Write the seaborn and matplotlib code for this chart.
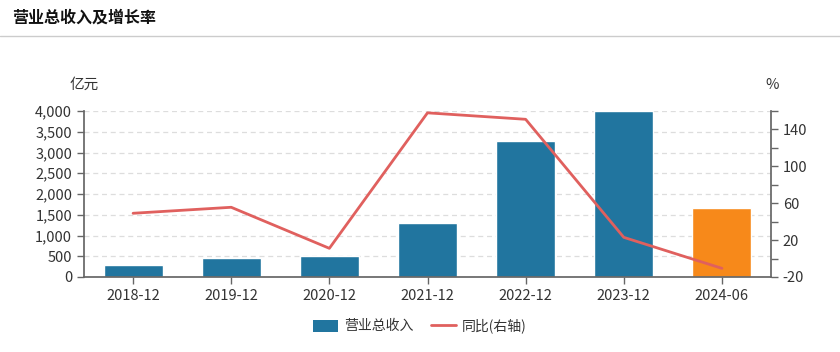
import matplotlib
matplotlib.use("Agg")
import matplotlib.pyplot as plt
import matplotlib.ticker as mticker
from matplotlib.patches import Patch
from matplotlib.lines import Line2D
import seaborn as sns
import pandas as pd

categories = ["2018-12", "2019-12", "2020-12", "2021-12", "2022-12", "2023-12", "2024-06"]
revenue = [296, 465, 500, 1301, 3284, 4000, 1670]
yoy = [49.1, 55.6, 11.1, 158.0, 151.0, 23.0, -10.6]
bar_colors = ["#21759f"] * 6 + ["#f7891a"]
title = "营业总收入及增长率"
left_unit = "亿元"
right_unit = "%"
legend_labels = ["营业总收入", "同比(右轴)"]

sns.set_theme(style="white")
plt.rcParams["font.family"] = ["Noto Sans CJK SC", "DejaVu Sans"]
plt.rcParams["axes.unicode_minus"] = False

df = pd.DataFrame({"cat": categories, "rev": revenue, "yoy": yoy})

fig = plt.figure(figsize=(8.4, 3.52), dpi=100)
ax = fig.add_axes([84/840, 1-277/352, (771-84)/840, (277-111)/352])

sns.barplot(data=df, x="cat", y="rev", hue="cat", palette=bar_colors,
            legend=False, width=0.6, ax=ax, saturation=1)
ax.set_ylim(0, 4000)
ax.set_xlim(-0.5, 6.5)
ax.yaxis.set_major_locator(mticker.MultipleLocator(500))
ax.yaxis.set_major_formatter(mticker.FuncFormatter(lambda v, p: f"{int(v):,}"))
ax.grid(axis="y", color="#dddddd", linestyle=(0, (4, 3)), linewidth=0.9)
ax.set_axisbelow(True)
ax.set_xlabel("")
ax.set_ylabel("")

ax2 = ax.twinx()
sns.lineplot(data=df, x="cat", y="yoy", color="#e0605e", linewidth=2, sort=False, ax=ax2)
ax2.set_ylim(-20, 160)
ax2.set_xlim(-0.5, 6.5)
ax2.yaxis.set_major_locator(mticker.MultipleLocator(20))
ax2.yaxis.set_major_formatter(mticker.FuncFormatter(
    lambda v, p: f"{int(round(v))}" if int(round(v)) % 40 == -20 % 40 and int(round(v)) != 160 else ""))
ax2.set_xlabel("")
ax2.set_ylabel("")
ax2.grid(False)

for a in (ax, ax2):
    a.spines["top"].set_visible(False)
    a.tick_params(colors="#333333", labelsize=10.5, length=5, width=1)
ax.spines["right"].set_visible(False)
ax2.spines["left"].set_visible(False)
ax2.spines["bottom"].set_visible(False)
ax.spines["left"].set_color("#666666")
ax.spines["bottom"].set_color("#666666")
ax2.spines["right"].set_color("#666666")
ax.tick_params(axis="both", color="#666666", direction="out", left=True, bottom=True)
ax2.tick_params(axis="y", color="#666666", direction="out", right=True)
ax.tick_params(axis="x", pad=4)

fig.text(70/840, 1-85/352, left_unit, fontsize=10.5, color="#333333", va="center", ha="left")
fig.text(772/840, 1-85/352, right_unit, fontsize=10.5, color="#333333", va="center", ha="center")

fig.text(12/840, 1-18/352, title, fontsize=11.5, fontweight="bold", color="#111111", va="center", ha="left")
fig.add_artist(Line2D([0, 1], [1-36/352, 1-36/352], color="#cccccc", linewidth=1, transform=fig.transFigure))

handles = [Patch(facecolor="#21759f", edgecolor="none"),
           Line2D([0], [0], color="#e0605e", linewidth=2)]
fig.legend(handles, legend_labels, loc="center", bbox_to_anchor=(0.5, 1-326/352), ncol=2,
           frameon=False, fontsize=10, handlelength=1.8, handleheight=0.95, columnspacing=1.2,
           handletextpad=0.45, labelcolor="#333333")

fig.savefig("out.png", dpi=100)
